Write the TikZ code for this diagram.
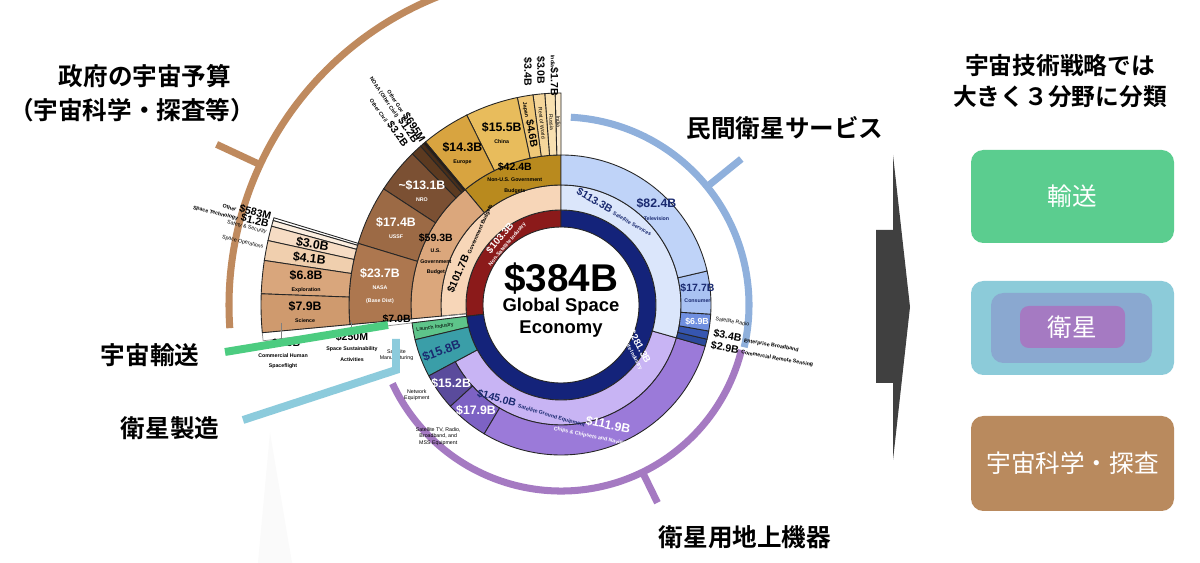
\documentclass[tikz,border=0pt]{standalone}
\usepackage{fontspec}
\setmainfont{Liberation Sans}
\newfontfamily\jp{Noto Sans CJK JP}[BoldFont=* Bold]
\newcommand\sm{\fontsize{3}{3.6}\selectfont}
\definecolor{cRed}{HTML}{8B1A1A}
\definecolor{cBlue}{HTML}{14237A}
\definecolor{cGovB}{HTML}{F7D6B8}
\definecolor{cGnd}{HTML}{C8B4F4}
\definecolor{cSvc}{HTML}{DBE6FB}
\definecolor{cLaunch}{HTML}{5EC48A}
\definecolor{cMfg}{HTML}{3A9EA8}
\definecolor{cUS}{HTML}{DBA77C}
\definecolor{cNonUS}{HTML}{B98A1E}
\definecolor{cGNSS}{HTML}{9B7AD9}
\definecolor{cTV}{HTML}{7D62C4}
\definecolor{cNet}{HTML}{5A4B9C}
\definecolor{sA}{HTML}{2B4A9C}
\definecolor{sB}{HTML}{3656B0}
\definecolor{sC}{HTML}{6F8FE0}
\definecolor{sD}{HTML}{A9C2F3}
\definecolor{sE}{HTML}{BFD3F8}
\definecolor{nA}{HTML}{D8A440}
\definecolor{nB}{HTML}{E8BC5C}
\definecolor{nC}{HTML}{F0C878}
\definecolor{nD}{HTML}{F5D69A}
\definecolor{nE}{HTML}{F8E0B0}
\definecolor{nF}{HTML}{FBEACC}
\definecolor{uA}{HTML}{2A1A10}
\definecolor{uB}{HTML}{4A2E18}
\definecolor{uC}{HTML}{5C3A20}
\definecolor{uD}{HTML}{7B5033}
\definecolor{uE}{HTML}{9C6A45}
\definecolor{uF}{HTML}{AD774F}
\definecolor{lA}{HTML}{FFFFFF}
\definecolor{lB}{HTML}{FBEEE0}
\definecolor{lC}{HTML}{F6DCC4}
\definecolor{lD}{HTML}{F0CFAE}
\definecolor{lE}{HTML}{D9A67C}
\definecolor{lF}{HTML}{CF9A6E}
\definecolor{arcBrown}{HTML}{BF8A5E}
\definecolor{arcBlue}{HTML}{8FB0DC}
\definecolor{arcPurple}{HTML}{A57AC2}
\definecolor{barGreen}{HTML}{4CCC80}
\definecolor{barCyan}{HTML}{8CCBDC}
\definecolor{boxGreen}{HTML}{5BCD8F}
\definecolor{boxCyan}{HTML}{8CCBD9}
\definecolor{boxBlue}{HTML}{8AA8D0}
\definecolor{boxPurple}{HTML}{A57AC2}
\definecolor{boxBrown}{HTML}{B98A5E}
\definecolor{arrowGray}{HTML}{404040}
\definecolor{txtBlue}{HTML}{1A2A70}
\newcommand\seg[5]{\filldraw[segline,fill=#5] (#1:#3) arc[start angle=#1,end angle=#2,radius={#3*0.02cm}] -- (#2:#4) arc[start angle=#2,end angle=#1,radius={#4*0.02cm}] -- cycle;}
\tikzset{
 segline/.style={draw=black!85,line width=0.5pt},
 amt/.style={font=\bfseries\fontsize{7}{7}\selectfont,inner sep=0pt,align=center},
 amts/.style={font=\bfseries\fontsize{6}{6}\selectfont,inner sep=0pt,align=center},
 subl/.style={font=\sm,inner sep=0pt,align=center},
 jpbig/.style={font=\jp\bfseries\fontsize{14}{17}\selectfont,inner sep=0pt,align=center},
 boxtxt/.style={font=\jp\fontsize{14}{16}\selectfont,text=white,inner sep=0pt},
 bigarc/.style={line width=4pt},
 rbox/.style={rounded corners=7pt},
}
\begin{document}
\begin{tikzpicture}[x=0.02cm,y=0.02cm]
\useasboundingbox (0,0) rectangle (1200,563);
\fill[white] (0,0) rectangle (1200,563);
\fill[black!2] (258,0) -- (270,130) -- (292,0) -- cycle;
\begin{scope}[shift={(561,258)}]
\draw[bigarc,arcBrown] (90:332) arc[start angle=90,end angle=184,radius={332*0.02cm}];
\draw[bigarc,arcBrown] (155:332) -- (155:380);
\draw[bigarc,arcBlue] (87:188) arc[start angle=87,end angle=-13,radius={188*0.02cm}];
\draw[bigarc,arcBlue] (39:188) -- (39:232);
\draw[bigarc,arcPurple] (-14:186) arc[start angle=-14,end angle=-155,radius={186*0.02cm}];
\draw[bigarc,arcPurple] (-64:186) -- (-64:220);
\seg{90}{186.85}{78}{95}{cRed}
\seg{186.85}{450}{78}{95}{cBlue}
\seg{90}{185.3}{95}{120}{cGovB}
\seg{208.2}{344.1}{95}{120}{cGnd}
\seg{344.1}{450}{95}{120}{cSvc}
\draw[black!45,line width=0.4pt] (185.3:95) -- (185.3:300) (186.85:95) -- (186.85:300);
\draw[black!45,line width=0.4pt] (185.3:300) arc[start angle=185.3,end angle=186.85,radius={300*0.02cm}];
\seg{186.85}{193.4}{95}{150}{cLaunch}
\seg{193.4}{208.2}{95}{150}{cMfg}
\seg{90}{129.75}{120}{150}{cNonUS}
\seg{129.75}{185.3}{120}{150}{cUS}
\seg{208.2}{222.5}{120}{150}{cNet}
\seg{222.5}{239.2}{120}{150}{cTV}
\seg{239.2}{344.1}{120}{150}{cGNSS}
\seg{344.1}{346.8}{120}{150}{sA}
\seg{346.8}{350}{120}{150}{sB}
\seg{350}{356.5}{120}{150}{sC}
\seg{356.5}{373.1}{120}{150}{sD}
\seg{373.1}{450}{120}{150}{sE}
\seg{90}{91.6}{150}{212}{nF}
\seg{91.6}{94.4}{150}{212}{nE}
\seg{94.4}{97.6}{150}{212}{nD}
\seg{97.6}{101.9}{150}{212}{nC}
\seg{101.9}{116.4}{150}{212}{nB}
\seg{116.4}{129.75}{150}{212}{nA}
\seg{129.75}{130.4}{150}{212}{uA}
\seg{130.4}{131.5}{150}{212}{uB}
\seg{131.5}{134.5}{150}{212}{uC}
\seg{134.5}{146.8}{150}{212}{uD}
\seg{146.8}{163.1}{150}{212}{uE}
\seg{163.1}{185.3}{150}{212}{uF}
\seg{163.1}{163.65}{212}{300}{lA}
\seg{163.65}{164.78}{212}{300}{lB}
\seg{164.78}{167.6}{212}{300}{lC}
\seg{167.6}{171.46}{212}{300}{lD}
\seg{171.46}{177.86}{212}{300}{lE}
\seg{177.86}{185.3}{212}{300}{lF}
\node[font=\bfseries\fontsize{22}{22}\selectfont,inner sep=0pt] (tot) at (0,26) {\$384B};
\node[font=\bfseries\fontsize{10.5}{12.5}\selectfont,align=center,inner sep=0pt] (gse) at (0,-13) {Global Space\\Economy};
\node[amts,text=white,rotate=50,font=\bfseries\fontsize{5.5}{5.5}\selectfont] (l103) at (132:86.5) {\$103.3B\\[-1pt]\sm Non-Satellite Industry};
\node[amts,text=white,rotate=-62,font=\bfseries\fontsize{5.5}{5.5}\selectfont] (l281) at (330:86.5) {\$281.3B\\[-1pt]\sm Satellite Industry};
\node[amts,rotate=66,font=\bfseries\fontsize{6}{6}\selectfont] (l101) at (148:107.5) {\$101.7B {\sm Government Budgets}};
\node[amts,text=txtBlue,rotate=-30] (l113) at (60:107.5) {\$113.3B {\sm Satellite Services}};
\node[amts,text=txtBlue,rotate=-16] (l145) at (254:107.5) {\$145.0B {\sm Satellite Ground Equipment}};
\node[amts] (l593) at (158:135) {\$59.3B\\\sm U.S.\\\sm Government\\\sm Budget};
\node[amts] (l424) at (110:135) {\$42.4B\\\sm Non-U.S. Government\\\sm Budgets};
\node[amt,text=txtBlue] (l824) at (45:135) {\$82.4B\\\sm Television};
\node[amts,text=txtBlue] (l177) at (5:137) {\$17.7B\\\sm Consumer};
\node[amts,text=white,font=\bfseries\fontsize{5}{5}\selectfont] (l69) at (353.2:137) {\$6.9B};
\node[amt,text=white,rotate=-12] (l1119) at (290:134) {\$111.9B\\\sm Chips \& Chipsets and Navigation Devices};
\node[amt,text=white] (l179) at (231:135) {\$17.9B};
\node[amt,text=white] (l152) at (215.5:135) {\$15.2B};
\node[amt,text=txtBlue,rotate=20] (l158) at (201:128) {\$15.8B};
\node[subl,rotate=8] (llau) at (190.1:128) {Launch Industry};
\node[amt,text=white] (l131) at (140.6:180) {\textasciitilde\$13.1B\\\sm NRO};
\node[amt,text=white] (l174) at (155:182) {\$17.4B\\\sm USSF};
\node[amt,text=white] (l237) at (174:182) {\$23.7B\\\sm NASA\\\sm (Base Dist)};
\node[amt] (l143) at (123:181) {\$14.3B\\\sm Europe};
\node[amt] (l155) at (109:182) {\$15.5B\\\sm China};
\node[amts,rotate=-80] (l46) at (99.7:183) {{\sm Japan} \$4.6B};
\node[subl,rotate=-84] (lrw) at (96:183) {Rest of World};
\node[subl,rotate=-87] (lru) at (93:183) {Russia};
\node[subl,rotate=-89] (lin) at (90.8:183) {India};
\node[amts,rotate=-90,anchor=west] (l34) at (97.6:250) {\$3.4B};
\node[amts,rotate=-90,anchor=west] (l30) at (94.6:250) {\$3.0B};
\node[amts,rotate=-90,anchor=west] (l17) at (91.5:250) {{\sm India}\$1.7B};
\node[amts,rotate=-57,anchor=east] (l695) at (130.1:214) {{\sm Other Gov} \$695M};
\node[amts,rotate=-56,anchor=east] (l12b) at (131.6:218) {{\sm NOAA (Other Civil)} \$1.2B};
\node[amts,rotate=-54,anchor=east] (l32) at (134.2:222) {{\sm Other Civil} \$3.2B};
\node[amt] (l79) at (181.6:256) {\$7.9B\\\sm Science};
\node[amt] (l68) at (174.7:256) {\$6.8B\\\sm Exploration};
\node[amt,rotate=-7] (l41) at (169.5:256) {\$4.1B};
\node[amt,rotate=-10] (l30b) at (166.2:256) {\$3.0B};
\node[amts,anchor=east,rotate=-14] (l583) at (163.0:303) {{\sm Other} \$583M};
\node[amts,anchor=east,rotate=-14] (l12n) at (164.6:303) {{\sm Space Technology} \$1.2B};
\node[subl,anchor=east,rotate=-14] (lss) at (166.1:303) {Safety \& Security};
\node[subl,anchor=east,rotate=-14] (lso) at (169.0:303) {Space Operations};
\node[subl,anchor=west,rotate=-10] (lsr) at (-5:155) {Satellite Radio};
\node[amts,anchor=west,rotate=-10] (l34s) at (-10.5:155) {\$3.4B {\sm Enterprise Broadband}};
\node[amts,anchor=west,rotate=-10] (l29s) at (-15:155) {\$2.9B {\sm Commercial Remote Sensing}};
\node[amts] (l70) at (185:165) {\$7.0B};
\node[subl] (lmfg) at (197:172) {Satellite\\Manufacturing};
\node[subl] (lnet) at (212:170) {Network\\Equipment};
\node[subl] (ltv) at (227:180) {Satellite TV, Radio,\\Broadband, and\\MSS Equipment};
\end{scope}
\coordinate (hs1) at (281,240);
\coordinate (hs1b) at (281,218);
\coordinate (hs2) at (351,241);
\coordinate (hs2b) at (351,226);
\draw[black!50,line width=0.4pt] (hs1) -- (hs1b) (hs2) -- (hs2b);
\node[amts] (l15) at (283,209) {\textasciitilde\$1.5B\\\sm Commercial Human\\\sm Spaceflight};
\node[amts] (l250) at (352,216) {\$250M\\\sm Space Sustainability\\\sm Activities};
\coordinate (g1) at (225,211);
\coordinate (g2) at (388,238);
\draw[barGreen,line width=4.5pt] (g1) -- (g2);
\coordinate (c1) at (243,143);
\coordinate (c2) at (396,193);
\coordinate (c3) at (396,224);
\draw[barCyan,line width=4.5pt] (c1) -- (c2) -- (c3);
\node[jpbig] (t1) at (145,487) {政府の宇宙予算};
\node[jpbig] (t2) at (132,453) {（宇宙科学・探査等）};
\node[jpbig] (t3) at (785,435) {民間衛星サービス};
\node[jpbig] (t4) at (150,208) {宇宙輸送};
\node[jpbig] (t5) at (170,135) {衛星製造};
\node[jpbig] (t6) at (745,26) {衛星用地上機器};
\node[jpbig,font=\jp\bfseries\fontsize{13.5}{18}\selectfont] (t7) at (1060,482) {宇宙技術戦略では\\大きく３分野に分類};
\fill[arrowGray] (876,333) -- (893,333) -- (893,408) -- (910,256) -- (893,103) -- (893,180) -- (876,180) -- cycle;
\fill[boxGreen,rbox] (971,320) rectangle (1174,413);
\node[boxtxt] (b1) at (1072.5,366.5) {輸送};
\fill[boxCyan,rbox] (971,188) rectangle (1174,282);
\fill[boxBlue,rbox] (991,200) rectangle (1152,270);
\fill[boxPurple,rounded corners=5pt] (1020,215) rectangle (1125,257);
\node[boxtxt] (b2) at (1072.5,236) {衛星};
\fill[boxBrown,rbox] (971,52) rectangle (1174,147);
\node[boxtxt] (b3) at (1072.5,99.5) {宇宙科学・探査};
\end{tikzpicture}
\end{document}
